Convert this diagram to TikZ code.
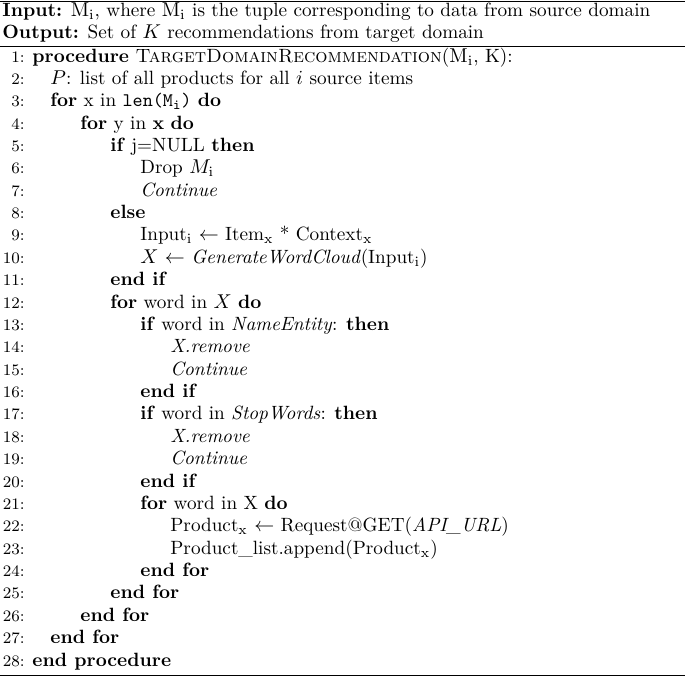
\documentclass[tikz,border=0pt]{standalone}
\begin{document}
\begin{tikzpicture}[x=0.5pt,y=-0.5pt,
  txt/.style={anchor=base west,inner sep=0pt,font=\fontsize{9.6}{11}\selectfont},
  num/.style={anchor=base east,inner sep=0pt,font=\fontsize{8}{10}\selectfont},
  rule/.style={line width=0.5pt}]
\useasboundingbox (0,0) rectangle (685,676);
\draw[rule] (0,1) coordinate (r1a) -- (685,1) coordinate (r1b);
\draw[rule] (0,46) coordinate (r2a) -- (685,46) coordinate (r2b);
\draw[rule] (0,675) coordinate (r3a) -- (685,675) coordinate (r3b);
\node[txt] (inp) at (2,16) {\textbf{Input:} $\mathrm{M_i}$, where $\mathrm{M_i}$ is the tuple corresponding to data from source domain};
\node[txt] (outp) at (2,38) {\textbf{Output:} Set of $K$ recommendations from target domain};
\def\al#1#2#3{\node[num] (n#1) at (25,{62+(#1-1)*22.37}) {#1:};
  \node[txt] (t#1) at (#2,{62+(#1-1)*22.37}) {#3};}
\al{1}{32}{\textbf{procedure} \textsc{TargetDomainRecommendation}($\mathrm{M_i}$, K):}
\al{2}{50}{$P$: list of all products for all $i$ source items}
\al{3}{50}{\textbf{for} x in \texttt{len(M$_{\mathtt{i}}$)} \textbf{do}}
\al{4}{80}{\textbf{for} y in \textbf{x} \textbf{do}}
\al{5}{110}{\textbf{if} j=NULL \textbf{then}}
\al{6}{140}{Drop $M_\mathrm{i}$}
\al{7}{140}{\textit{Continue}}
\al{8}{110}{\textbf{else}}
\al{9}{140}{Input$_\mathrm{i}$ $\leftarrow$ Item$_\mathrm{x}$ * Context$_\mathrm{x}$}
\al{10}{140}{$X$ $\leftarrow$ \textit{GenerateWordCloud}(Input$_\mathrm{i}$)}
\al{11}{110}{\textbf{end if}}
\al{12}{110}{\textbf{for} word in $X$ \textbf{do}}
\al{13}{140}{\textbf{if} word in \textit{NameEntity}: \textbf{then}}
\al{14}{170}{\textit{X.remove}}
\al{15}{170}{\textit{Continue}}
\al{16}{140}{\textbf{end if}}
\al{17}{140}{\textbf{if} word in \textit{StopWords}: \textbf{then}}
\al{18}{170}{\textit{X.remove}}
\al{19}{170}{\textit{Continue}}
\al{20}{140}{\textbf{end if}}
\al{21}{140}{\textbf{for} word in X \textbf{do}}
\al{22}{170}{Product$_\mathrm{x}$ $\leftarrow$ Request@GET(\textit{API\_URL})}
\al{23}{170}{Product\_list.append(Product$_\mathrm{x}$)}
\al{24}{140}{\textbf{end for}}
\al{25}{110}{\textbf{end for}}
\al{26}{80}{\textbf{end for}}
\al{27}{50}{\textbf{end for}}
\al{28}{32}{\textbf{end procedure}}
\end{tikzpicture}
\end{document}
